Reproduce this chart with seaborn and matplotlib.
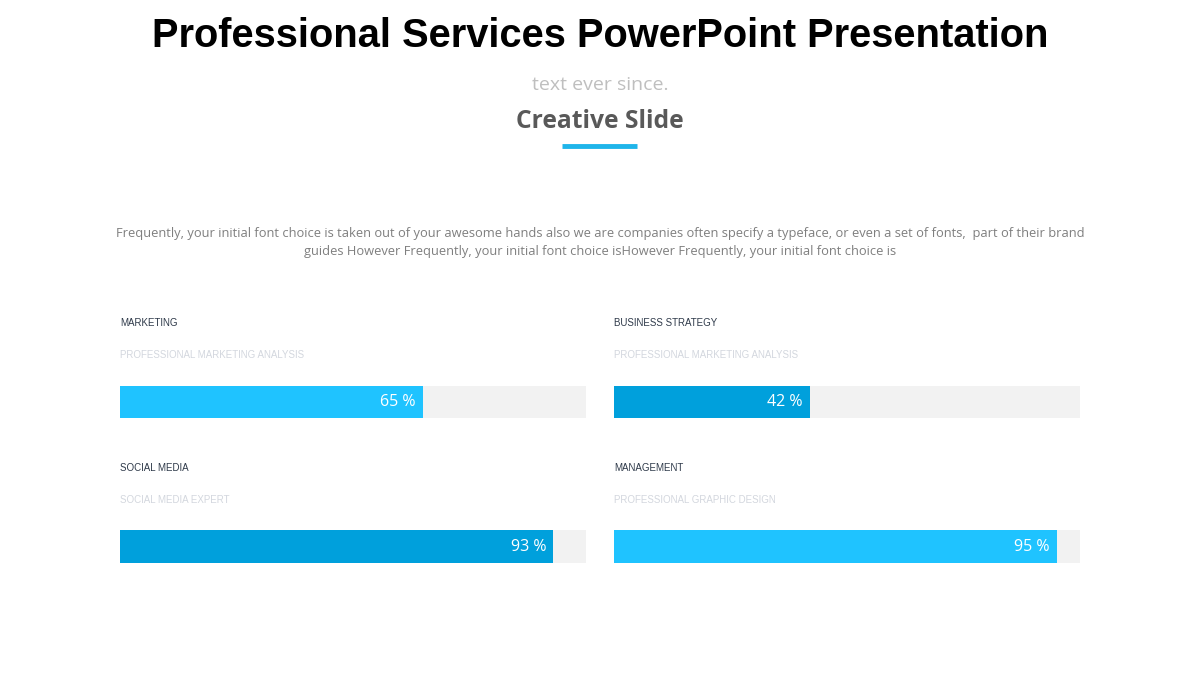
import seaborn as sns
import matplotlib.pyplot as plt

categories = ['MARKETING', 'BUSINESS STRATEGY', 'SOCIAL MEDIA', 'MANAGEMENT']
subtitles = ['PROFESSIONAL MARKETING ANALYSIS', 'PROFESSIONAL MARKETING ANALYSIS',
             'SOCIAL MEDIA EXPERT', 'PROFESSIONAL GRAPHIC DESIGN']
values = [65, 42, 93, 95]
bar_colors = ['#1FC3FF', '#00A0DC', '#00A0DC', '#1FC3FF']

title = 'Professional Services PowerPoint Presentation'
kicker = 'text ever since.'
heading = 'Creative Slide'
body = ('Frequently, your initial font choice is taken out of your awesome hands also we are companies '
        'often specify a typeface, or even a set of fonts,  part of their brand\n'
        'guides However Frequently, your initial font choice isHowever Frequently, your initial font choice is')

sns.set_theme(style='white')
plt.rcParams['font.family'] = ['Open Sans', 'DejaVu Sans']

fig = plt.figure(figsize=(12, 6.75), dpi=100)
fig.patch.set_facecolor('white')

fig.text(0.5, 1 - 36 / 675, title, ha='center', va='center', fontsize=28.7, fontweight='bold',
         family='Liberation Sans', color='black')
fig.text(0.5, 1 - 85 / 675, kicker, ha='center', va='center', fontsize=14, color='#BFBFBF')
fig.text(0.5, 1 - 121 / 675, heading, ha='center', va='center', fontsize=17.7, fontweight='bold',
         color='#595959')
fig.add_artist(plt.Line2D([562 / 1200, 637 / 1200], [1 - 146 / 675] * 2, color='#1FB5EA', lw=3.5,
                          solid_capstyle='butt'))
fig.text(0.5, 1 - 243 / 675, body, ha='center', va='center', fontsize=9.3, color='#7F7F7F',
         linespacing=1.5)

# axes boxes (left, bottom, width, height) for the four progress bars
boxes = [(0.1, 0.3807, 0.3883, 0.0474), (0.5117, 0.3807, 0.3883, 0.0474),
         (0.1, 0.1659, 0.3883, 0.0489), (0.5117, 0.1659, 0.3883, 0.0489)]

for cat, sub, val, col, box in zip(categories, subtitles, values, bar_colors, boxes):
    ax = fig.add_axes(box)
    sns.barplot(x=[100], y=[cat], color='#F2F2F2', width=1.0, ax=ax, saturation=1, linewidth=0)
    sns.barplot(x=[val], y=[cat], color=col, width=1.0, ax=ax, saturation=1, linewidth=0)
    ax.set_xlim(0, 100)
    ax.set_ylim(0.5, -0.5)
    ax.axis('off')
    ax.text(val - 1.5, 0, f'{val} %', ha='right', va='center', color='white', fontsize=11.5)
    mid = box[1] + box[3] / 2
    fig.text(box[0], mid + 79 / 675, cat, ha='left', va='center',
             fontsize=7, color='#2F3A4A', family='Liberation Sans')
    fig.text(box[0], mid + 47 / 675, sub, ha='left', va='center',
             fontsize=7, color='#D3D7DE', family='Liberation Sans')

fig.savefig('out.png', dpi=100, facecolor='white')
